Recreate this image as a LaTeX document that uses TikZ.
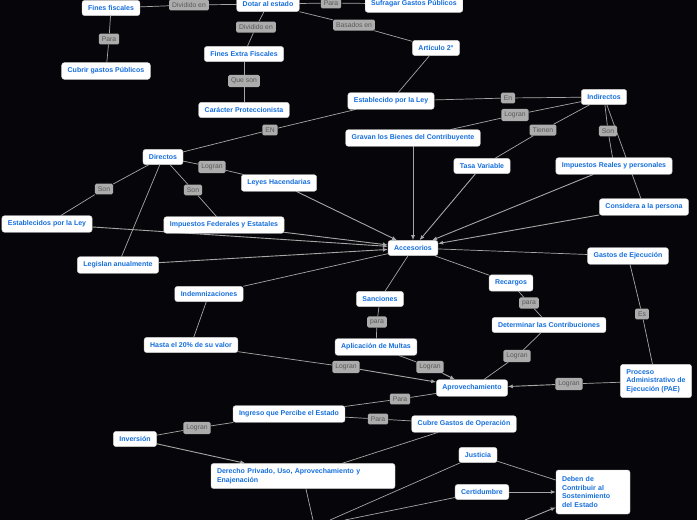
\documentclass[tikz,border=0pt]{standalone}
\usepackage{fontspec}
\setmainfont{Liberation Sans}
\usetikzlibrary{backgrounds,arrows.meta}
\definecolor{nblue}{RGB}{20,110,220}
\definecolor{bg}{RGB}{6,6,10}
\tikzset{
 cn/.style={fill=white,draw=gray!40,rounded corners=2.5pt,text=nblue,font=\fontsize{7}{8.5}\selectfont\bfseries,inner xsep=6pt,inner ysep=5pt},
 lb/.style={fill=gray!65,rounded corners=1.5pt,text=black!65,font=\fontsize{6.8}{8}\selectfont,inner sep=3pt},
 ln/.style={draw=gray!70,line width=0.7pt},
 ar/.style={draw=gray!70,line width=0.9pt,-{Latex[length=5pt,width=4pt]}}
}
\begin{document}
\begin{tikzpicture}[x=1pt,y=-1pt]
\useasboundingbox (0,0) rectangle (697,520);
% concepts
\node[cn] (fiscales) at (111,8) {Fines fiscales};
\node[cn] (dotar) at (268,4) {Dotar al estado};
\node[cn] (sufragar) at (414,4) {Sufragar Gastos Públicos};
\node[cn] (cubrir) at (106,71) {Cubrir gastos Públicos};
\node[cn] (extra) at (244,54) {Fines Extra Fiscales};
\node[cn] (caracter) at (244,110) {Carácter Proteccionista};
\node[cn] (articulo) at (436,48) {Artículo 2°};
\node[cn] (establecido) at (391,101) {Establecido por la Ley};
\node[cn] (indirectos) at (604,97) {Indirectos};
\node[cn] (gravan) at (413,138) {Gravan los Bienes del Contribuyente};
\node[cn] (directos) at (163,157) {Directos};
\node[cn] (leyes) at (279,183) {Leyes Hacendarias};
\node[cn] (tasa) at (482,166) {Tasa Variable};
\node[cn] (impreales) at (614,166) {Impuestos Reales y personales};
\node[cn] (considera) at (644,207) {Considera a la persona};
\node[cn] (estleyes) at (47,224) {Establecidos por la Ley};
\node[cn] (impfed) at (224,225) {Impuestos Federales y Estatales};
\node[cn] (accesorios) at (413,248) {Accesorios};
\node[cn] (gastosej) at (628,256) {Gastos de Ejecución};
\node[cn] (legislan) at (118,265) {Legislan anualmente};
\node[cn] (indemn) at (209,294) {Indemnizaciones};
\node[cn] (sanciones) at (380,299) {Sanciones};
\node[cn] (recargos) at (511,283) {Recargos};
\node[cn] (determinar) at (549,325) {Determinar las Contribuciones};
\node[cn] (hasta) at (191,345) {Hasta el 20\% de su valor};
\node[cn] (multas) at (376,347) {Aplicación de Multas};
\node[cn] (aprovech) at (472,388) {Aprovechamiento};
\node[cn,align=left] (pae) at (656,381) {Proceso\\Administrativo de\\Ejecución (PAE)};
\node[cn] (ingreso) at (289,414) {Ingreso que Percibe el Estado};
\node[cn] (cubre) at (464,424) {Cubre Gastos de Operación};
\node[cn] (inversion) at (135,439) {Inversión};
\node[cn,align=left,text width=172pt] (derecho) at (303,476) {Derecho Privado, Uso, Aprovechamiento y\\Enajenación};
\node[cn] (justicia) at (478,455) {Justicia};
\node[cn] (certidumbre) at (482,492) {Certidumbre};
\node[cn,align=left,minimum height=44pt,text width=62pt] (deben) at (593,492) {Deben de\\Contribuir al\\Sostenimiento\\del Estado};
% link labels
\node[lb] (l1) at (189,5) {Dividido en};
\node[lb] (l2) at (331,3) {Para};
\node[lb] (l3) at (354,25) {Basados en};
\node[lb] (l4) at (109,39) {Para};
\node[lb] (l5) at (256,27) {Dividido en};
\node[lb] (l6) at (244,81) {Que son};
\node[lb] (l7) at (270,130) {EN};
\node[lb] (l8) at (508,98) {En};
\node[lb] (l9) at (515,115) {Logran};
\node[lb] (l10) at (543,130) {Tienen};
\node[lb] (l11) at (608,131) {Son};
\node[lb] (l12) at (212,167) {Logran};
\node[lb] (l13) at (104,189) {Son};
\node[lb] (l14) at (193,190) {Son};
\node[lb] (l15) at (377,322) {para};
\node[lb] (l16) at (529,303) {para};
\node[lb] (l17) at (642,314) {Es};
\node[lb] (l18) at (346,367) {Logran};
\node[lb] (l19) at (430,367) {Logran};
\node[lb] (l20) at (517,356) {Logran};
\node[lb] (l21) at (569,384) {Logran};
\node[lb] (l22) at (400,399) {Para};
\node[lb] (l23) at (378,419) {Para};
\node[lb] (l24) at (197,428) {Logran};
\coordinate (b1) at (313,520);
\coordinate (b2) at (330,520);
\coordinate (b3) at (345,520);
\coordinate (b4) at (525,520);
\begin{scope}[on background layer]
\fill[bg] (0,0) rectangle (697,520);
\draw[ln] (dotar) -- (l1) -- (fiscales);
\draw[ln] (dotar) -- (l2) -- (sufragar);
\draw[ln] (dotar) -- (l3) -- (articulo);
\draw[ln] (dotar) -- (l5) -- (extra);
\draw[ln] (fiscales) -- (l4) -- (cubrir);
\draw[ln] (extra) -- (l6) -- (caracter);
\draw[ln] (articulo) -- (establecido);
\draw[ln] (directos) -- (l7) -- (establecido);
\draw[ln] (indirectos) -- (l8) -- (establecido);
\draw[ln] (indirectos) -- (l9) -- (gravan);
\draw[ln] (indirectos) -- (l10) -- (tasa);
\draw[ln] (indirectos) -- (l11) -- (impreales);
\draw[ln] (indirectos) -- (considera);
\draw[ln] (directos) -- (l12) -- (leyes);
\draw[ln] (directos) -- (l13) -- (estleyes);
\draw[ln] (directos) -- (l14) -- (impfed);
\draw[ln] (directos) -- (legislan);
\draw[ar] (gravan) -- (accesorios);
\draw[ar] (tasa) -- (accesorios);
\draw[ar] (leyes) -- (accesorios);
\draw[ar] (impreales) -- (accesorios);
\draw[ar] (considera) -- (accesorios);
\draw[ar] (estleyes) -- (accesorios);
\draw[ar] (impfed) -- (accesorios);
\draw[ar] (legislan) -- (accesorios);
\draw[ln] (accesorios) -- (gastosej);
\draw[ln] (accesorios) -- (indemn);
\draw[ln] (accesorios) -- (sanciones);
\draw[ln] (accesorios) -- (recargos);
\draw[ln] (sanciones) -- (l15) -- (multas);
\draw[ln] (recargos) -- (l16) -- (determinar);
\draw[ln] (gastosej) -- (l17) -- (pae);
\draw[ln] (indemn) -- (hasta);
\draw[ln] (hasta) -- (l18); \draw[ar] (l18) -- (aprovech);
\draw[ln] (multas) -- (l19); \draw[ar] (l19) -- (aprovech);
\draw[ln] (determinar) -- (l20) -- (aprovech);
\draw[ln] (pae) -- (l21); \draw[ar] (l21) -- (aprovech);
\draw[ln] (aprovech) -- (l22) -- (ingreso);
\draw[ln] (ingreso) -- (l23) -- (cubre);
\draw[ln] (inversion) -- (l24) -- (ingreso);
\draw[ar] (inversion) -- (derecho);
\draw[ln] (cubre) -- (derecho);
\draw[ln] (justicia) -- (deben);
\draw[ar] (certidumbre) -- (deben);
\draw[ln] (derecho) -- (b1);
\draw[ln] (justicia) -- (b2);
\draw[ln] (certidumbre) -- (b3);
\draw[ar] (b4) -- (deben);
\end{scope}
\end{tikzpicture}
\end{document}
